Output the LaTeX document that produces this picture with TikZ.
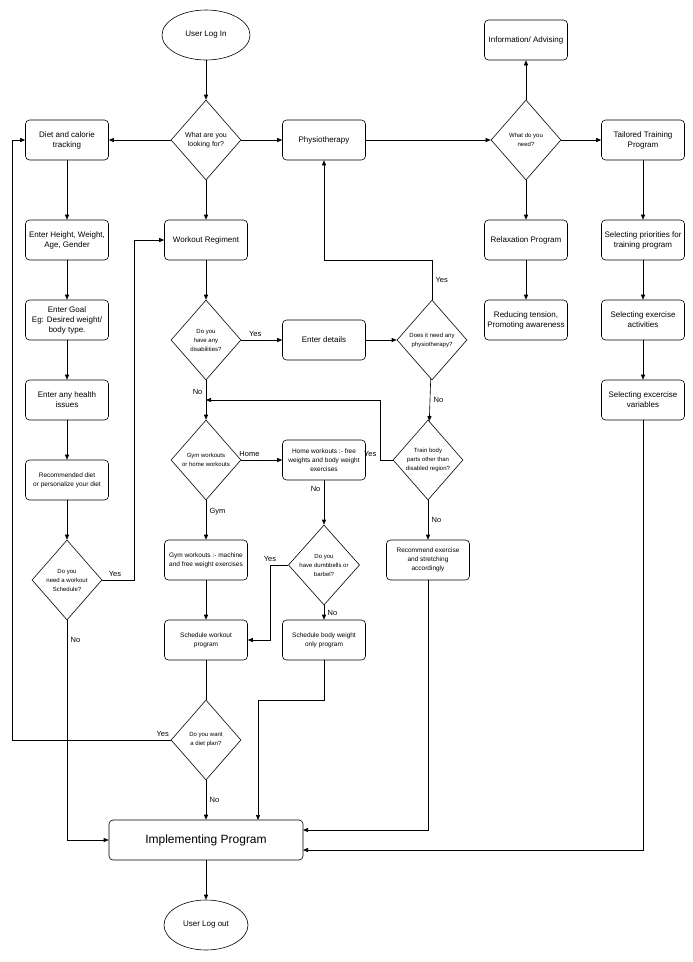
\documentclass[tikz,border=0pt]{standalone}
\usepackage{fontspec}
\setmainfont{Liberation Sans}
\usetikzlibrary{shapes.geometric,arrows.meta}
\begin{document}
\begin{tikzpicture}[x=1pt,y=-1pt,
 box/.style={draw,rounded corners=4pt,minimum width=83pt,minimum height=40pt,align=center,font=\fontsize{8}{10}\selectfont,inner sep=1pt},
 sbox/.style={box,font=\fontsize{6.5}{9}\selectfont},
 dia/.style={draw,diamond,minimum width=70pt,minimum height=80pt,inner sep=0pt,align=center,font=\fontsize{7}{9}\selectfont},
 sdia/.style={dia,font=\fontsize{6}{9}\selectfont},
 ell/.style={draw,ellipse,minimum width=88pt,minimum height=50pt,font=\fontsize{8}{10}\selectfont},
 lab/.style={font=\fontsize{7.5}{9}\selectfont},
 >={Triangle[length=5pt,width=4pt]}, every path/.style={line width=0.6pt}]
\useasboundingbox (0,0) rectangle (693,962);
\node[ell] (login) at (206,35) {User Log In};
\node[dia] (look) at (206,140) {What are you\\looking for?};
\node[box] (diet) at (67,140) {Diet and calorie\\tracking};
\node[box] (phys) at (324,140) {Physiotherapy};
\node[sdia] (need) at (526,140) {What do you\\need?};
\node[box] (info) at (526,40) {Information/ Advising};
\node[box] (tail) at (643,140) {Tailored Training\\Program};
\node[box] (height) at (67,240) {Enter Height, Weight,\\Age, Gender};
\node[box] (work) at (206,240) {Workout Regiment};
\node[box] (relax) at (526,240) {Relaxation Program};
\node[box] (prio) at (643,240) {Selecting priorities for\\training program};
\node[box] (goal) at (67,320) {Enter Goal\\Eg: Desired weight/\\body type.};
\node[sdia] (disab) at (206,340) {Do you\\have any\\disabilities?};
\node[box] (details) at (324,340) {Enter details};
\node[sdia] (physq) at (432,340) {Does it need any\\physiotherapy?};
\node[box] (reduce) at (526,320) {Reducing tension,\\Promoting awareness};
\node[box] (act) at (643,320) {Selecting exercise\\activities};
\node[box] (health) at (67,400) {Enter any health\\issues};
\node[box] (vars) at (643,400) {Selecting excercise\\variables};
\node[sdia] (gymhome) at (206,460) {Gym workouts\\or home workouts};
\node[sbox] (home) at (324,460) {Home workouts :- free\\weights and body weight\\exercises};
\node[sdia] (train) at (428,460) {Train body\\parts other than\\disabled region?};
\node[sbox] (rdiet) at (67,480) {Recommended diet\\or personalize your diet};
\node[sdia] (sched) at (67,580) {Do you\\need a workout\\Schedule?};
\node[sbox] (gym) at (206,560) {Gym workouts :- machine\\and free weight exercises};
\node[sdia,minimum width=68pt] (dumb) at (324,565) {Do you\\have dumbbells or\\barbel?};
\node[sbox] (rex) at (428,560) {Recommend exercise\\and stretching\\accordingly};
\node[sbox] (swork) at (206,640) {Schedule workout\\program};
\node[sbox] (sbody) at (324,640) {Schedule body weight\\only program};
\node[sdia] (plan) at (206,740) {Do you want\\a diet plan?};
\node[box,minimum width=194pt,font=\fontsize{12}{14}\selectfont] (impl) at (206,840) {Implementing Program};
\node[ell,minimum width=84pt] (logout) at (206,925) {User Log out};

\draw[->] (login) -- (look);
\draw[->] (look) -- (diet);
\draw[->] (look) -- (phys);
\draw[->] (look) -- (work);
\draw[->] (phys) -- (need);
\draw[->] (need) -- (info);
\draw[->] (need) -- (tail);
\draw[->] (need) -- (relax);
\draw[->] (relax) -- (reduce);
\draw[->] (tail) -- (prio);
\draw[->] (prio) -- (act);
\draw[->] (act) -- (vars);
\draw[->] (diet) -- (height);
\draw[->] (height) -- (goal);
\draw[->] (goal) -- (health);
\draw[->] (health) -- (rdiet);
\draw[->] (rdiet) -- (sched);
\draw[->] (work) -- (disab);
\draw[->] (disab) -- node[lab,above right,pos=0.1]{Yes} (details);
\draw[->] (details) -- (physq);
\draw[->] (physq.north) |- (324,260) node[lab,pos=0.25,right]{Yes} -- (phys.south);
\draw[->] (physq) -- node[lab,right]{No} (train);
\draw[->] (train) -- node[lab,right]{No} (rex);
\draw[->] (train.west) -- (380,460) node[lab,above left]{Yes} -- (380,400) -- (206,400);
\draw[->] (disab) -- node[lab,pos=0.3,left]{No} (gymhome);
\draw[->] (gymhome) -- node[lab,above,pos=0.2]{Home} (home);
\draw[->] (gymhome) -- node[lab,right,pos=0.3]{Gym} (gym);
\draw[->] (home) -- node[lab,left,pos=0.2]{No} (dumb);
\draw[->] (dumb) -- node[lab,right]{No} (sbody);
\draw[->] (dumb.west) -- (270,565) node[lab,above]{Yes} -- (270,640) -- (swork);
\draw[->] (gym) -- (swork);
\draw (swork) -- (plan);
\draw[->] (plan) -- node[lab,right]{No} (impl);
\draw[->] (plan.west) -- node[lab,above,pos=0.05]{Yes} (12,740) -- (12,140) -- (diet);
\draw[->] (sched.east) -- node[lab,above,pos=0.4]{Yes} (134,580) -- (134,240) -- (work);
\draw[->] (sched.south) -- node[lab,right,pos=0.09]{No} (67,840) -- (impl);
\draw[->] (sbody.south) -- (324,700) -- (258,700) -- (258,820);
\draw[->] (rex.south) -- (428,830) -- (303,830);
\draw[->] (vars.south) -- (643,850) -- (303,850);
\draw[->] (impl) -- (logout);
\end{tikzpicture}
\end{document}
